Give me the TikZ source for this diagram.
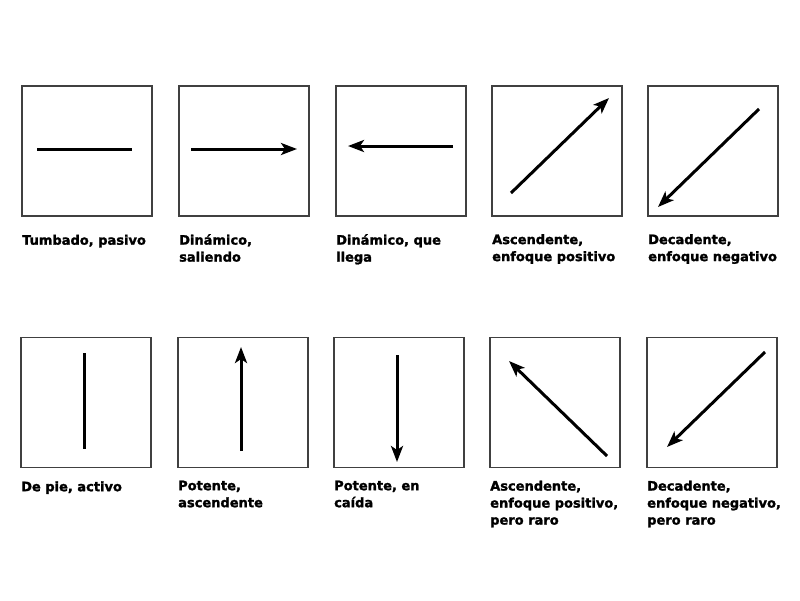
\documentclass[tikz,border=0pt]{standalone}
\usepackage{fontspec}
\setmainfont{DejaVu Sans}[BoldFont={DejaVu Sans Bold},
  BoldFeatures={FakeBold=1.6}]
\usetikzlibrary{arrows.meta,positioning}
\tikzset{%
  >={Stealth[width=12pt,length=16pt,inset=4pt]},
  % Specifications for style of nodes:
        frame/.style = {rectangle, draw=black!75, line width=1.1pt,
                        minimum width=130pt, minimum height=130pt,
                        inner sep=0pt},
      caption/.style = {anchor=north west, inner sep=0pt, align=left,
                        font=\bfseries\fontsize{13pt}{17pt}\selectfont,
                        execute at begin node={\rule{0pt}{10.5pt}}},
       stroke/.style = {line width=3pt},
}
\begin{document}
\begin{tikzpicture}[x=1pt, y=-1pt]
\useasboundingbox (0,0) rectangle (800,600);

% upper row
\node (B1)  [frame] at (87,151)  {};
\node (B2)  [frame] at (244,151) {};
\node (B3)  [frame] at (401,151) {};
\node (B4)  [frame] at (557,151) {};
\node (B5)  [frame] at (713,151) {};

\node (L1)  [caption] at (22,234)  {Tumbado, pasivo};
\node (L2)  [caption] at (179,234) {Dinámico,\\saliendo};
\node (L3)  [caption] at (336,234) {Dinámico, que\\llega};
\node (L4)  [caption] at (492,234) {Ascendente,\\enfoque positivo};
\node (L5)  [caption] at (648,234) {Decadente,\\enfoque negativo};

% lower row
\node (B6)  [frame] at (86,402.5)  {};
\node (B7)  [frame] at (243,402.5) {};
\node (B8)  [frame] at (399,402.5) {};
\node (B9)  [frame] at (555,402.5) {};
\node (B10) [frame] at (712,402.5) {};

\node (L6)  [caption] at (21,480.5)  {De pie, activo};
\node (L7)  [caption] at (178,480.5) {Potente,\\ascendente};
\node (L8)  [caption] at (334,480.5) {Potente, en\\caída};
\node (L9)  [caption] at (490,480.5) {Ascendente,\\enfoque positivo,\\pero raro};
\node (L10) [caption] at (647,480.5) {Decadente,\\enfoque negativo,\\pero raro};

% ends of the strokes
\coordinate (s1)  at (37,149);  \coordinate (e1)  at (132,149);
\coordinate (s2)  at (191,149); \coordinate (e2)  at (297,149);
\coordinate (s3)  at (453,146); \coordinate (e3)  at (348,146);
\coordinate (s4)  at (511,193); \coordinate (e4)  at (609,98);
\coordinate (s5)  at (759,109); \coordinate (e5)  at (658,207);
\coordinate (s6)  at (84,353);  \coordinate (e6)  at (84,449);
\coordinate (s7)  at (241,451); \coordinate (e7)  at (241,347);
\coordinate (s8)  at (397,355); \coordinate (e8)  at (397,462);
\coordinate (s9)  at (607,456); \coordinate (e9)  at (509,361);
\coordinate (s10) at (765,352); \coordinate (e10) at (667,447);

\draw[stroke]     (s1) -- (e1);
\draw[stroke,->]  (s2) -- (e2);
\draw[stroke,->]  (s3) -- (e3);
\draw[stroke,->]  (s4) -- (e4);
\draw[stroke,->]  (s5) -- (e5);
\draw[stroke]     (s6) -- (e6);
\draw[stroke,->]  (s7) -- (e7);
\draw[stroke,->]  (s8) -- (e8);
\draw[stroke,->]  (s9) -- (e9);
\draw[stroke,->]  (s10) -- (e10);
\end{tikzpicture}
\end{document}
